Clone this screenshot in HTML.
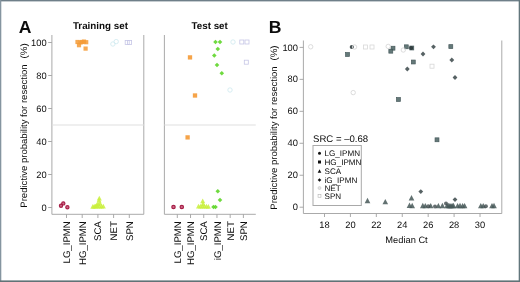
<!DOCTYPE html>
<html><head><meta charset="utf-8"><title>Figure</title>
<style>
html,body{margin:0;padding:0;background:#fff;}
body{width:520px;height:282px;overflow:hidden;}
svg{display:block;filter:blur(0.4px);}
text{font-family:"Liberation Sans",Arial,Helvetica,sans-serif;fill:#0c0c0c;text-rendering:geometricPrecision;}
</style></head><body>
<svg width="520" height="282" viewBox="0 0 520 282">
<rect x="0" y="0" width="520" height="282" fill="#ffffff"/>
<g stroke="#a0a0a0" stroke-width="0.9" fill="none">
<path d="M51.9 35 V214.3 H143.8 V35"/>
<path d="M164.4 35 V214.3 H255.8"/>
<path d="M303.4 40.5 V213.5 H501.8 V40.5"/>
<path d="M48.2 207.50 H51.9"/>
<path d="M299.6 207.20 H303.4"/>
<path d="M48.2 174.50 H51.9"/>
<path d="M299.6 175.24 H303.4"/>
<path d="M48.2 141.50 H51.9"/>
<path d="M299.6 143.28 H303.4"/>
<path d="M48.2 108.50 H51.9"/>
<path d="M299.6 111.32 H303.4"/>
<path d="M48.2 75.50 H51.9"/>
<path d="M299.6 79.36 H303.4"/>
<path d="M48.2 42.50 H51.9"/>
<path d="M299.6 47.40 H303.4"/>
<path d="M66.50 214.3 V218"/>
<path d="M82.20 214.3 V218"/>
<path d="M97.90 214.3 V218"/>
<path d="M113.60 214.3 V218"/>
<path d="M129.30 214.3 V218"/>
<path d="M177.30 214.3 V218"/>
<path d="M190.52 214.3 V218"/>
<path d="M203.74 214.3 V218"/>
<path d="M216.96 214.3 V218"/>
<path d="M230.18 214.3 V218"/>
<path d="M243.40 214.3 V218"/>
<path d="M324.50 213.5 V217"/>
<path d="M350.42 213.5 V217"/>
<path d="M376.34 213.5 V217"/>
<path d="M402.26 213.5 V217"/>
<path d="M428.18 213.5 V217"/>
<path d="M454.10 213.5 V217"/>
<path d="M480.02 213.5 V217"/>
</g>
<path d="M51.9 125.00 H143.8 M164.4 125.00 H255.8" stroke="#e0e0e0" stroke-width="1.1" fill="none"/>
<g font-size="9.3" text-anchor="end">
<text x="46.6" y="210.50">0</text>
<text x="297.9" y="210.30">0</text>
<text x="46.6" y="177.50">20</text>
<text x="297.9" y="178.34">20</text>
<text x="46.6" y="144.50">40</text>
<text x="297.9" y="146.38">40</text>
<text x="46.6" y="111.50">60</text>
<text x="297.9" y="114.42">60</text>
<text x="46.6" y="78.50">80</text>
<text x="297.9" y="82.46">80</text>
<text x="46.6" y="45.50">100</text>
<text x="297.9" y="50.50">100</text>
</g>
<g font-size="9.3" text-anchor="middle">
<text x="324.50" y="227.7">18</text>
<text x="350.42" y="227.7">20</text>
<text x="376.34" y="227.7">22</text>
<text x="402.26" y="227.7">24</text>
<text x="428.18" y="227.7">26</text>
<text x="454.10" y="227.7">28</text>
<text x="480.02" y="227.7">30</text>
<text x="406.5" y="243">Median Ct</text>
</g>
<g font-size="9.65" text-anchor="end">
<text transform="translate(69.85 221.2) rotate(-90)">LG_IPMN</text>
<text transform="translate(85.55 221.2) rotate(-90)">HG_IPMN</text>
<text transform="translate(101.25 221.2) rotate(-90)">SCA</text>
<text transform="translate(116.95 221.2) rotate(-90)">NET</text>
<text transform="translate(132.65 221.2) rotate(-90)">SPN</text>
<text transform="translate(181.00 221.2) rotate(-90)">LG_IPMN</text>
<text transform="translate(194.22 221.2) rotate(-90)">HG_IPMN</text>
<text transform="translate(207.44 221.2) rotate(-90)">SCA</text>
<text transform="translate(220.66 221.2) rotate(-90)">iG_IPMN</text>
<text transform="translate(233.88 221.2) rotate(-90)">NET</text>
<text transform="translate(247.10 221.2) rotate(-90)">SPN</text>
</g>
<text font-size="9.3" transform="translate(26.6 207.7) rotate(-90)" textLength="143.4" lengthAdjust="spacingAndGlyphs">Predictive probability for resection</text>
<text font-size="9.3" transform="translate(26.6 58.4) rotate(-90)" textLength="15.1" lengthAdjust="spacingAndGlyphs">(%)</text>
<text font-size="9.3" transform="translate(277.1 209.7) rotate(-90)" textLength="143.4" lengthAdjust="spacingAndGlyphs">Predictive probability for resection</text>
<text font-size="9.3" transform="translate(277.1 60.5) rotate(-90)" textLength="15.1" lengthAdjust="spacingAndGlyphs">(%)</text>
<text x="18.7" y="32.9" font-size="17.6" font-weight="bold" fill="#000">A</text>
<text x="268.8" y="32.8" font-size="17.6" font-weight="bold" fill="#000">B</text>
<text x="100.4" y="28.9" font-size="9.8" font-weight="bold" text-anchor="middle" fill="#111">Training set</text>
<text x="209.7" y="28.9" font-size="9.8" font-weight="bold" text-anchor="middle" fill="#111">Test set</text>
<rect x="75.40" y="39.90" width="4.2" height="4.2" fill="#f59a35" stroke="none" stroke-width="0.8" opacity="0.85"/>
<rect x="78.50" y="40.30" width="4.2" height="4.2" fill="#f59a35" stroke="none" stroke-width="0.8" opacity="0.85"/>
<rect x="81.90" y="39.50" width="4.2" height="4.2" fill="#f59a35" stroke="none" stroke-width="0.8" opacity="0.85"/>
<rect x="84.10" y="40.10" width="4.2" height="4.2" fill="#f59a35" stroke="none" stroke-width="0.8" opacity="0.85"/>
<rect x="76.90" y="43.10" width="4.2" height="4.2" fill="#f59a35" stroke="none" stroke-width="0.8" opacity="0.85"/>
<rect x="83.50" y="46.50" width="4.2" height="4.2" fill="#f59a35" stroke="none" stroke-width="0.8" opacity="0.85"/>
<rect x="79.90" y="39.90" width="4.2" height="4.2" fill="#f59a35" stroke="none" stroke-width="0.8" opacity="0.85"/>
<circle cx="112.90" cy="44.00" r="2.2" fill="none" stroke="#d2ebf1" stroke-width="0.9" opacity="1"/>
<circle cx="116.20" cy="41.60" r="2.2" fill="none" stroke="#d2ebf1" stroke-width="0.9" opacity="1"/>
<rect x="125.20" y="40.40" width="4.0" height="4.0" fill="none" stroke="#c6c6e6" stroke-width="0.8" opacity="1"/>
<rect x="127.60" y="40.40" width="4.0" height="4.0" fill="none" stroke="#c6c6e6" stroke-width="0.8" opacity="1"/>
<circle cx="63.30" cy="203.40" r="1.6" fill="#cc6485" stroke="#a3163f" stroke-width="1.2" opacity="0.95"/>
<circle cx="61.00" cy="205.70" r="1.6" fill="#cc6485" stroke="#a3163f" stroke-width="1.2" opacity="0.95"/>
<circle cx="67.40" cy="207.30" r="1.6" fill="#cc6485" stroke="#a3163f" stroke-width="1.2" opacity="0.95"/>
<path d="M92.80 204.05 L95.30 208.80 L90.30 208.80 Z" fill="#c9f03c" stroke="none" stroke-width="0.8" opacity="0.85"/>
<path d="M94.20 203.75 L96.70 208.50 L91.70 208.50 Z" fill="#c9f03c" stroke="none" stroke-width="0.8" opacity="0.85"/>
<path d="M95.50 203.65 L98.00 208.40 L93.00 208.40 Z" fill="#c9f03c" stroke="none" stroke-width="0.8" opacity="0.85"/>
<path d="M97.50 203.85 L100.00 208.60 L95.00 208.60 Z" fill="#c9f03c" stroke="none" stroke-width="0.8" opacity="0.85"/>
<path d="M99.50 203.65 L102.00 208.40 L97.00 208.40 Z" fill="#c9f03c" stroke="none" stroke-width="0.8" opacity="0.85"/>
<path d="M101.50 203.85 L104.00 208.60 L99.00 208.60 Z" fill="#c9f03c" stroke="none" stroke-width="0.8" opacity="0.85"/>
<path d="M103.30 203.75 L105.80 208.50 L100.80 208.50 Z" fill="#c9f03c" stroke="none" stroke-width="0.8" opacity="0.85"/>
<path d="M98.00 201.15 L100.50 205.90 L95.50 205.90 Z" fill="#c9f03c" stroke="none" stroke-width="0.8" opacity="0.85"/>
<path d="M100.00 200.65 L102.50 205.40 L97.50 205.40 Z" fill="#c9f03c" stroke="none" stroke-width="0.8" opacity="0.85"/>
<path d="M99.00 197.65 L101.50 202.40 L96.50 202.40 Z" fill="#c9f03c" stroke="none" stroke-width="0.8" opacity="0.85"/>
<path d="M99.30 195.65 L101.80 200.40 L96.80 200.40 Z" fill="#c9f03c" stroke="none" stroke-width="0.8" opacity="0.85"/>
<path d="M96.50 202.65 L99.00 207.40 L94.00 207.40 Z" fill="#c9f03c" stroke="none" stroke-width="0.8" opacity="0.85"/>
<circle cx="173.50" cy="207.00" r="1.7" fill="#cc6485" stroke="#a3163f" stroke-width="1.2" opacity="0.95"/>
<circle cx="181.80" cy="207.00" r="1.7" fill="#cc6485" stroke="#a3163f" stroke-width="1.2" opacity="0.95"/>
<rect x="187.85" y="55.25" width="4.3" height="4.3" fill="#f59a35" stroke="none" stroke-width="0.8" opacity="0.9"/>
<rect x="192.85" y="93.35" width="4.3" height="4.3" fill="#f59a35" stroke="none" stroke-width="0.8" opacity="0.9"/>
<rect x="185.45" y="135.25" width="4.3" height="4.3" fill="#f59a35" stroke="none" stroke-width="0.8" opacity="0.9"/>
<path d="M198.50 203.65 L201.00 208.40 L196.00 208.40 Z" fill="#c9f03c" stroke="none" stroke-width="0.8" opacity="0.85"/>
<path d="M200.50 203.85 L203.00 208.60 L198.00 208.60 Z" fill="#c9f03c" stroke="none" stroke-width="0.8" opacity="0.85"/>
<path d="M202.50 203.65 L205.00 208.40 L200.00 208.40 Z" fill="#c9f03c" stroke="none" stroke-width="0.8" opacity="0.85"/>
<path d="M204.50 203.85 L207.00 208.60 L202.00 208.60 Z" fill="#c9f03c" stroke="none" stroke-width="0.8" opacity="0.85"/>
<path d="M206.50 203.75 L209.00 208.50 L204.00 208.50 Z" fill="#c9f03c" stroke="none" stroke-width="0.8" opacity="0.85"/>
<path d="M208.40 203.95 L210.90 208.70 L205.90 208.70 Z" fill="#c9f03c" stroke="none" stroke-width="0.8" opacity="0.85"/>
<path d="M202.70 198.45 L205.20 203.20 L200.20 203.20 Z" fill="#c9f03c" stroke="none" stroke-width="0.8" opacity="0.85"/>
<path d="M203.00 201.15 L205.50 205.90 L200.50 205.90 Z" fill="#c9f03c" stroke="none" stroke-width="0.8" opacity="0.85"/>
<path d="M215.50 39.70 L217.80 42.00 L215.50 44.30 L213.20 42.00 Z" fill="#5fd62a" stroke="none" stroke-width="0.8" opacity="0.9"/>
<path d="M220.00 39.70 L222.30 42.00 L220.00 44.30 L217.70 42.00 Z" fill="#5fd62a" stroke="none" stroke-width="0.8" opacity="0.9"/>
<path d="M217.80 46.70 L220.10 49.00 L217.80 51.30 L215.50 49.00 Z" fill="#5fd62a" stroke="none" stroke-width="0.8" opacity="0.9"/>
<path d="M214.30 53.20 L216.60 55.50 L214.30 57.80 L212.00 55.50 Z" fill="#5fd62a" stroke="none" stroke-width="0.8" opacity="0.9"/>
<path d="M217.00 62.70 L219.30 65.00 L217.00 67.30 L214.70 65.00 Z" fill="#5fd62a" stroke="none" stroke-width="0.8" opacity="0.9"/>
<path d="M221.80 71.00 L224.10 73.30 L221.80 75.60 L219.50 73.30 Z" fill="#5fd62a" stroke="none" stroke-width="0.8" opacity="0.9"/>
<path d="M217.80 188.90 L220.10 191.20 L217.80 193.50 L215.50 191.20 Z" fill="#5fd62a" stroke="none" stroke-width="0.8" opacity="0.9"/>
<path d="M220.00 197.70 L222.30 200.00 L220.00 202.30 L217.70 200.00 Z" fill="#5fd62a" stroke="none" stroke-width="0.8" opacity="0.9"/>
<path d="M213.50 204.70 L215.80 207.00 L213.50 209.30 L211.20 207.00 Z" fill="#5fd62a" stroke="none" stroke-width="0.8" opacity="0.9"/>
<path d="M215.50 204.70 L217.80 207.00 L215.50 209.30 L213.20 207.00 Z" fill="#5fd62a" stroke="none" stroke-width="0.8" opacity="0.9"/>
<circle cx="233.00" cy="42.00" r="2.2" fill="none" stroke="#d2ebf1" stroke-width="0.9" opacity="1"/>
<circle cx="230.00" cy="90.00" r="2.2" fill="none" stroke="#d2ebf1" stroke-width="0.9" opacity="1"/>
<rect x="239.80" y="40.00" width="4.0" height="4.0" fill="none" stroke="#c6c6e6" stroke-width="0.8" opacity="1"/>
<rect x="245.00" y="40.00" width="4.0" height="4.0" fill="none" stroke="#c6c6e6" stroke-width="0.8" opacity="1"/>
<rect x="244.30" y="60.20" width="4.0" height="4.0" fill="none" stroke="#c6c6e6" stroke-width="0.8" opacity="1"/>
<rect x="345.55" y="52.55" width="3.9" height="3.9" fill="#5c7272" stroke="#3f5254" stroke-width="0.7" opacity="0.95"/>
<rect x="391.05" y="46.25" width="3.9" height="3.9" fill="#5c7272" stroke="#3f5254" stroke-width="0.7" opacity="0.95"/>
<rect x="388.85" y="49.25" width="3.9" height="3.9" fill="#5c7272" stroke="#3f5254" stroke-width="0.7" opacity="0.95"/>
<rect x="404.35" y="44.85" width="3.9" height="3.9" fill="#5c7272" stroke="#3f5254" stroke-width="0.7" opacity="0.95"/>
<rect x="409.85" y="46.05" width="3.9" height="3.9" fill="#5c7272" stroke="#3f5254" stroke-width="0.7" opacity="0.95"/>
<rect x="448.85" y="44.65" width="3.9" height="3.9" fill="#5c7272" stroke="#3f5254" stroke-width="0.7" opacity="0.95"/>
<rect x="411.35" y="60.05" width="3.9" height="3.9" fill="#5c7272" stroke="#3f5254" stroke-width="0.7" opacity="0.95"/>
<rect x="396.45" y="97.55" width="3.9" height="3.9" fill="#5c7272" stroke="#3f5254" stroke-width="0.7" opacity="0.95"/>
<rect x="435.05" y="137.85" width="3.9" height="3.9" fill="#5c7272" stroke="#3f5254" stroke-width="0.7" opacity="0.95"/>
<circle cx="351.80" cy="47.00" r="2.1" fill="#3e4a4c" stroke="none" stroke-width="0.8" opacity="0.95"/>
<circle cx="411.20" cy="48.00" r="2.1" fill="#2e3a3c" stroke="none" stroke-width="0.8" opacity="0.9"/>
<circle cx="310.70" cy="46.80" r="2.2" fill="none" stroke="#d8d8d8" stroke-width="0.9" opacity="1"/>
<circle cx="354.60" cy="47.00" r="2.2" fill="none" stroke="#d8d8d8" stroke-width="0.9" opacity="1"/>
<circle cx="388.20" cy="46.40" r="2.2" fill="none" stroke="#d8d8d8" stroke-width="0.9" opacity="1"/>
<circle cx="403.30" cy="50.00" r="2.2" fill="none" stroke="#d8d8d8" stroke-width="0.9" opacity="1"/>
<circle cx="353.20" cy="92.60" r="2.2" fill="none" stroke="#d8d8d8" stroke-width="0.9" opacity="1"/>
<rect x="363.50" y="45.00" width="4.0" height="4.0" fill="none" stroke="#d8d8d8" stroke-width="0.8" opacity="1"/>
<rect x="370.00" y="45.00" width="4.0" height="4.0" fill="none" stroke="#d8d8d8" stroke-width="0.8" opacity="1"/>
<rect x="430.00" y="64.20" width="4.0" height="4.0" fill="none" stroke="#d8d8d8" stroke-width="0.8" opacity="1"/>
<path d="M423.00 51.60 L425.40 54.00 L423.00 56.40 L420.60 54.00 Z" fill="#4e5a5c" stroke="none" stroke-width="0.8" opacity="0.95"/>
<path d="M433.50 44.40 L435.90 46.80 L433.50 49.20 L431.10 46.80 Z" fill="#4e5a5c" stroke="none" stroke-width="0.8" opacity="0.95"/>
<path d="M451.80 57.60 L454.20 60.00 L451.80 62.40 L449.40 60.00 Z" fill="#4e5a5c" stroke="none" stroke-width="0.8" opacity="0.95"/>
<path d="M407.30 66.60 L409.70 69.00 L407.30 71.40 L404.90 69.00 Z" fill="#4e5a5c" stroke="none" stroke-width="0.8" opacity="0.95"/>
<path d="M455.00 75.10 L457.40 77.50 L455.00 79.90 L452.60 77.50 Z" fill="#4e5a5c" stroke="none" stroke-width="0.8" opacity="0.95"/>
<path d="M420.80 189.20 L423.20 191.60 L420.80 194.00 L418.40 191.60 Z" fill="#4e5a5c" stroke="none" stroke-width="0.8" opacity="0.95"/>
<path d="M455.00 197.20 L457.40 199.60 L455.00 202.00 L452.60 199.60 Z" fill="#4e5a5c" stroke="none" stroke-width="0.8" opacity="0.95"/>
<path d="M367.50 197.81 L370.30 203.13 L364.70 203.13 Z" fill="#465858" stroke="none" stroke-width="0.8" opacity="0.85"/>
<path d="M385.30 199.01 L388.10 204.33 L382.50 204.33 Z" fill="#465858" stroke="none" stroke-width="0.8" opacity="0.85"/>
<path d="M411.50 195.11 L414.30 200.43 L408.70 200.43 Z" fill="#465858" stroke="none" stroke-width="0.8" opacity="0.85"/>
<path d="M409.50 202.61 L412.30 207.93 L406.70 207.93 Z" fill="#465858" stroke="none" stroke-width="0.8" opacity="0.85"/>
<path d="M412.20 202.81 L415.00 208.13 L409.40 208.13 Z" fill="#465858" stroke="none" stroke-width="0.8" opacity="0.85"/>
<path d="M422.80 202.81 L425.60 208.13 L420.00 208.13 Z" fill="#465858" stroke="none" stroke-width="0.8" opacity="0.85"/>
<path d="M425.30 203.01 L428.10 208.33 L422.50 208.33 Z" fill="#465858" stroke="none" stroke-width="0.8" opacity="0.85"/>
<path d="M430.70 203.01 L433.50 208.33 L427.90 208.33 Z" fill="#465858" stroke="none" stroke-width="0.8" opacity="0.85"/>
<path d="M438.40 203.01 L441.20 208.33 L435.60 208.33 Z" fill="#465858" stroke="none" stroke-width="0.8" opacity="0.85"/>
<path d="M442.40 202.81 L445.20 208.13 L439.60 208.13 Z" fill="#465858" stroke="none" stroke-width="0.8" opacity="0.85"/>
<path d="M448.50 202.81 L451.30 208.13 L445.70 208.13 Z" fill="#465858" stroke="none" stroke-width="0.8" opacity="0.85"/>
<path d="M451.00 203.01 L453.80 208.33 L448.20 208.33 Z" fill="#465858" stroke="none" stroke-width="0.8" opacity="0.85"/>
<path d="M453.50 202.81 L456.30 208.13 L450.70 208.13 Z" fill="#465858" stroke="none" stroke-width="0.8" opacity="0.85"/>
<path d="M447.00 203.01 L449.80 208.33 L444.20 208.33 Z" fill="#465858" stroke="none" stroke-width="0.8" opacity="0.85"/>
<path d="M449.80 202.91 L452.60 208.23 L447.00 208.23 Z" fill="#465858" stroke="none" stroke-width="0.8" opacity="0.85"/>
<path d="M452.30 203.01 L455.10 208.33 L449.50 208.33 Z" fill="#465858" stroke="none" stroke-width="0.8" opacity="0.85"/>
<path d="M457.60 203.01 L460.40 208.33 L454.80 208.33 Z" fill="#465858" stroke="none" stroke-width="0.8" opacity="0.85"/>
<path d="M460.00 202.81 L462.80 208.13 L457.20 208.13 Z" fill="#465858" stroke="none" stroke-width="0.8" opacity="0.85"/>
<path d="M462.60 203.01 L465.40 208.33 L459.80 208.33 Z" fill="#465858" stroke="none" stroke-width="0.8" opacity="0.85"/>
<path d="M464.60 203.01 L467.40 208.33 L461.80 208.33 Z" fill="#465858" stroke="none" stroke-width="0.8" opacity="0.85"/>
<path d="M480.80 203.01 L483.60 208.33 L478.00 208.33 Z" fill="#465858" stroke="none" stroke-width="0.8" opacity="0.85"/>
<path d="M483.20 203.01 L486.00 208.33 L480.40 208.33 Z" fill="#465858" stroke="none" stroke-width="0.8" opacity="0.85"/>
<path d="M492.00 203.01 L494.80 208.33 L489.20 208.33 Z" fill="#465858" stroke="none" stroke-width="0.8" opacity="0.85"/>
<path d="M494.00 202.81 L496.80 208.13 L491.20 208.13 Z" fill="#465858" stroke="none" stroke-width="0.8" opacity="0.85"/>
<circle cx="428.30" cy="206.30" r="2.0" fill="#3e4a4c" stroke="none" stroke-width="0.8" opacity="0.8"/>
<circle cx="446.00" cy="203.60" r="2.0" fill="#3e4a4c" stroke="none" stroke-width="0.8" opacity="0.8"/>
<circle cx="485.90" cy="206.30" r="2.0" fill="#3e4a4c" stroke="none" stroke-width="0.8" opacity="0.8"/>
<circle cx="435.00" cy="206.50" r="2.0" fill="#3e4a4c" stroke="none" stroke-width="0.8" opacity="0.8"/>
<text x="313" y="142.2" font-size="9.6">SRC = –0.68</text>
<rect x="313" y="145.5" width="48.3" height="60" fill="#ffffff" stroke="#a9a9a9" stroke-width="1"/>
<g font-size="8.1">
<text x="324.5" y="156.20">LG_IPMN</text>
<text x="324.5" y="164.90">HG_IPMN</text>
<text x="324.5" y="174.10">SCA</text>
<text x="324.5" y="182.90">iG_IPMN</text>
<text x="324.5" y="190.90">NET</text>
<text x="324.5" y="198.70">SPN</text>
</g>
<circle cx="319.50" cy="153.30" r="1.5" fill="#111" stroke="none" stroke-width="0.8" opacity="1"/>
<rect x="318.00" y="160.50" width="3.0" height="3.0" fill="#111" stroke="none" stroke-width="0.8" opacity="1"/>
<path d="M319.50 169.35 L321.30 172.77 L317.70 172.77 Z" fill="#111" stroke="none" stroke-width="0.8" opacity="1"/>
<path d="M319.50 178.20 L321.30 180.00 L319.50 181.80 L317.70 180.00 Z" fill="#111" stroke="none" stroke-width="0.8" opacity="1"/>
<circle cx="319.50" cy="188.00" r="1.5" fill="#e4e4e4" stroke="#c4c4c4" stroke-width="0.6" opacity="1"/>
<rect x="318.05" y="194.35" width="2.9" height="2.9" fill="#fff" stroke="#b4b4b4" stroke-width="0.6" opacity="1"/>
<rect x="0" y="0" width="520" height="1.4" fill="#6f7f89"/>
<rect x="0" y="0" width="1.3" height="282" fill="#8595a0"/>
<rect x="518.7" y="0" width="1.3" height="282" fill="#62767c"/>
<rect x="0" y="280.4" width="520" height="1.6" fill="#617377"/>
</svg>
</body></html>
